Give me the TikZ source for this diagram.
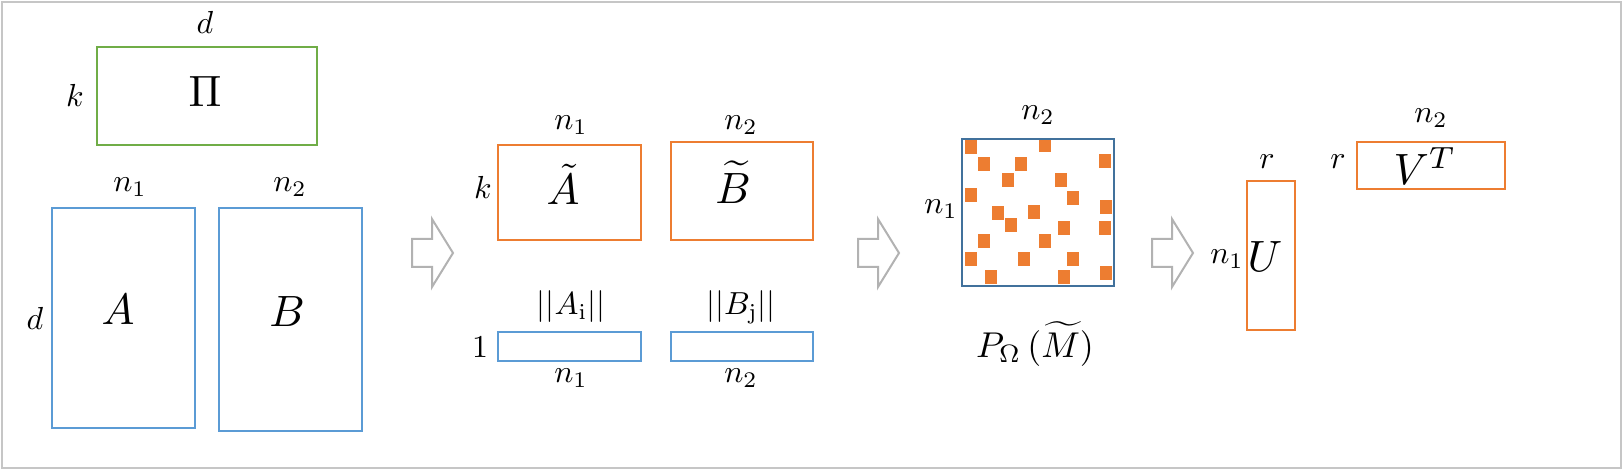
\documentclass[tikz,border=0pt]{standalone}
\usepackage{amsmath}
\begin{document}
\begin{tikzpicture}[x=1bp,y=-1bp,
  bl/.style={draw=blu,line width=2bp},
  og/.style={draw=org,line width=2bp},
  lab/.style={scale=3.2},
  big/.style={scale=4.4},
  harrow/.style={draw=gray!60,line width=2bp,fill=white},
  sq/.style={fill=org}]
\definecolor{blu}{HTML}{5B9BD5}
\definecolor{org}{HTML}{ED7D31}
\definecolor{grn}{HTML}{70AD47}
\definecolor{mat}{HTML}{41719C}
\useasboundingbox (0,0) rectangle (1624,471);
\draw[gray!45,line width=2bp] (2,2) rectangle (1621,468);
% Pi
\draw[draw=grn,line width=2bp] (97,47) rectangle (317,145);
\node[big] (pi) at (205,92) {$\Pi$};
\node[lab] (pid) at (205,22) {$d$};
\node[lab] (pik) at (75,95) {$k$};
% A B
\draw[bl] (52,208) rectangle (195,428);
\draw[bl] (219,208) rectangle (362,431);
\node[lab] (an) at (130,187) {$n_1$};
\node[lab] (bn) at (290,187) {$n_2$};
\node[lab] (ad) at (35,318) {$d$};
\node[big] (a) at (118,310) {$A$};
\node[big] (b) at (287,312) {$B$};
% arrows
\foreach \x/\nm in {412/ar1,858/ar2,1152/ar3}{
  \draw[harrow] (\x,239) -- (\x+20,239) -- (\x+20,219) -- (\x+41,253) -- (\x+20,287) -- (\x+20,267) -- (\x,267) -- cycle;
}
% At Bt
\draw[og] (498,145) rectangle (641,240);
\draw[og] (671,142) rectangle (813,240);
\node[lab] (atn) at (571,125) {$n_1$};
\node[lab] (btn) at (741,125) {$n_2$};
\node[lab] (atk) at (483,187) {$k$};
\node[big] (at) at (563,184) {$\tilde{A}$};
\node[big] (bt) at (733,182) {$\widetilde{B}$};
% norms
\node[lab] (na) at (571,307) {$||A_{\mathrm{i}}||$};
\node[lab] (nb) at (741,307) {$||B_{\mathrm{j}}||$};
\draw[bl] (498,332) rectangle (641,361);
\draw[bl] (671,332) rectangle (813,361);
\node[lab] (one) at (480,347) {$1$};
\node[lab] (nan) at (571,378) {$n_1$};
\node[lab] (nbn) at (741,378) {$n_2$};
% sparse matrix
\begin{scope}[shift={(962,139)}]
\foreach \u/\v in {9/8,83/6,22/25,59/25,143/22,46/41,99/41,9/56,111/59,144/68,36/74,72/73,49/86,102/89,143/89,22/102,83/102,9/120,62/120,111/120,29/138,102/138,144/134}{
  \fill[sq] (\u-6,\v-7) rectangle (\u+6,\v+7);
}
\end{scope}
\draw[draw=mat,line width=2.5bp] (962,139) rectangle (1114,286);
\node[lab] (mn2) at (1038,115) {$n_2$};
\node[lab] (mn1) at (941,209) {$n_1$};
\node[scale=3.6] (po) at (1035,344) {$P_{\Omega}\,(\widetilde{M})$};
% U V
\draw[og] (1247,181) rectangle (1295,330);
\node[lab] (ur) at (1267,162) {$r$};
\node[lab] (un) at (1227,259) {$n_1$};
\node[big] (u) at (1265,257) {$U$};
\draw[og] (1357,142) rectangle (1505,189);
\node[lab] (vn) at (1431,118) {$n_2$};
\node[lab] (vr) at (1338,162) {$r$};
\node[big] (v) at (1425,166) {$V^T$};
\end{tikzpicture}
\end{document}
